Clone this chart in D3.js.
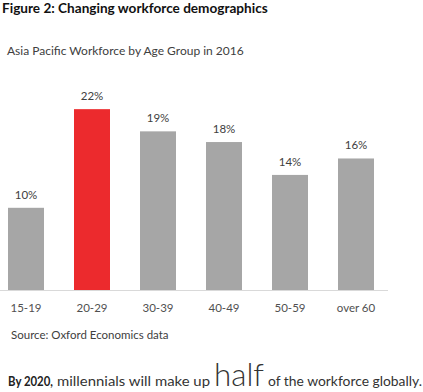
<!DOCTYPE html>
<html><head><meta charset="utf-8">
<script src="https://cdn.jsdelivr.net/npm/d3@7"></script>
<style>
html,body{margin:0;padding:0;background:#fff;}
svg{display:block;}
</style></head>
<body>
<svg id="c" width="423" height="392"></svg>
<script>
const categories = ["15-19","20-29","30-39","40-49","50-59","over 60"];
const values = [10, 22, 19.3, 18, 14, 16];
const labels = ["10%","22%","19%","18%","14%","16%"];
const highlight = "20-29";

const svg = d3.select("#c");

const x = d3.scaleBand().domain(categories).range([-7, 389])
  .paddingInner(30/66).paddingOuter(15/66);
const y = d3.scaleLinear().domain([0, 25]).range([290, 84.5]);

// title
svg.append("text").attr("x", 2).attr("y", 13)
  .style("font-family", "Lato, sans-serif").style("font-weight", "700")
  .style("font-size", "13.6px").style("fill", "#111")
  .text("Figure 2: Changing workforce demographics");

svg.append("text").attr("x", 7).attr("y", 55)
  .style("font-family", "Lato, sans-serif").style("font-weight", "400")
  .style("font-size", "12px").style("fill", "#404040")
  .text("Asia Pacific Workforce by Age Group in 2016");

// bars
svg.append("g").selectAll("rect").data(categories).join("rect")
  .attr("x", d => x(d))
  .attr("width", x.bandwidth())
  .attr("y", (d, i) => y(values[i]))
  .attr("height", (d, i) => y(0) - y(values[i]))
  .attr("fill", d => d === highlight ? "#ec2a2d" : "#a6a6a6");

// value labels
svg.append("g").selectAll("text").data(categories).join("text")
  .attr("x", d => x(d) + x.bandwidth() / 2)
  .attr("y", (d, i) => y(values[i]) - 9)
  .attr("text-anchor", "middle")
  .style("font-family", "Lato, sans-serif").style("font-size", "11.5px")
  .style("fill", "#404040")
  .text((d, i) => labels[i]);

// axis
const axis = d3.axisBottom(x).tickSize(0).tickPadding(14);
const ag = svg.append("g").attr("transform", "translate(0,290)").call(axis);
ag.select(".domain").remove();
ag.selectAll("text").style("font-family", "Lato, sans-serif")
  .style("font-size", "11.5px").style("fill", "#505050");
svg.append("line").attr("x1", 0).attr("x2", 388).attr("y1", 290.5).attr("y2", 290.5)
  .attr("stroke", "#d9d9d9").attr("stroke-width", 1);

svg.append("text").attr("x", 11).attr("y", 339)
  .style("font-family", "Lato, sans-serif").style("font-size", "11.5px")
  .style("fill", "#404040")
  .text("Source: Oxford Economics data");

// bottom line
const bottom = [
  {t: "By 2020,", x: 8, w: 45, fs: 13, fw: 700, c: "#222"},
  {t: "millennials will make up", x: 57, w: 153, fs: 13, fw: 400, c: "#333"},
  {t: "half", x: 214, w: 50, fs: 31, fw: 300, c: "#333"},
  {t: "of the workforce globally.", x: 268, w: 154, fs: 13, fw: 400, c: "#333"}
];
svg.append("g").selectAll("text").data(bottom).join("text")
  .attr("x", d => d.x).attr("y", 386)
  .attr("textLength", d => d.w).attr("lengthAdjust", "spacingAndGlyphs")
  .style("font-family", "Lato, sans-serif")
  .style("font-size", d => d.fs + "px").style("font-weight", d => d.fw)
  .style("fill", d => d.c)
  .text(d => d.t);
</script>
</body></html>
